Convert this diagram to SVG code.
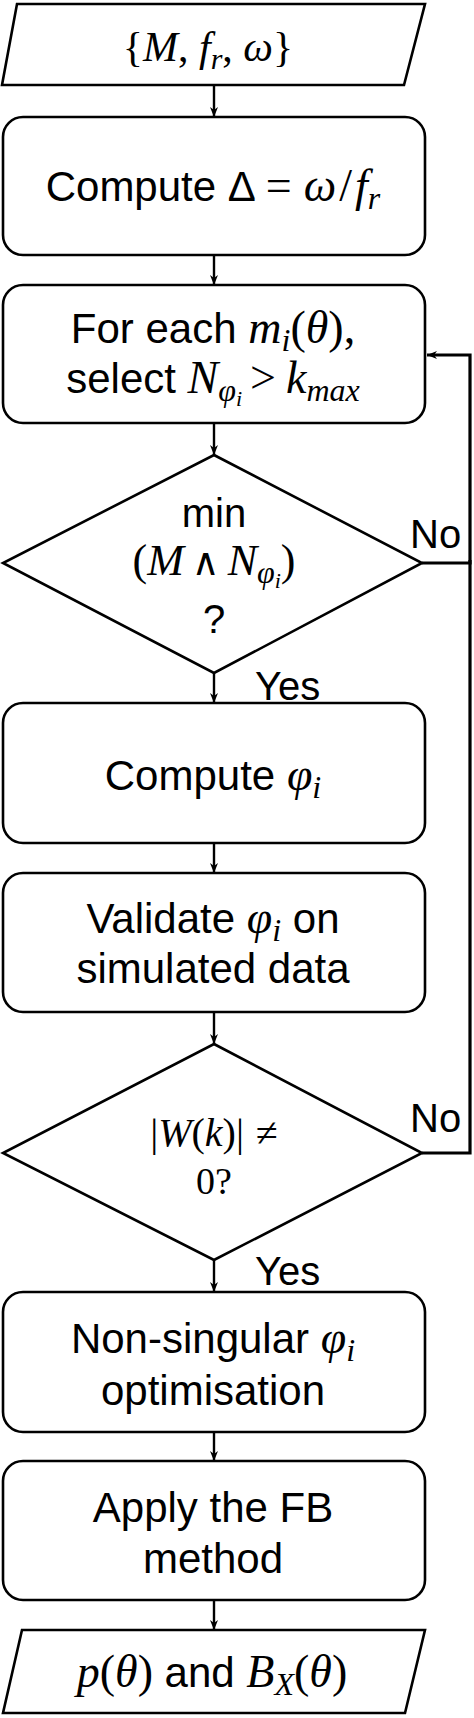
<svg xmlns="http://www.w3.org/2000/svg" width="474" height="1718" viewBox="0 0 474 1718">
<style>
.shape{fill:#fff;stroke:#000;stroke-width:2.6;stroke-linejoin:miter}
.con{fill:none;stroke:#000;stroke-width:2.4}
.loop{fill:none;stroke:#000;stroke-width:3.2}
text{fill:#000;font-size:46px;text-anchor:middle}
.s{font-family:"Liberation Sans",Arial,sans-serif;font-size:42px}
.d{font-family:"Liberation Sans",Arial,sans-serif;font-size:40px}
.lbl{font-family:"Liberation Sans",Arial,sans-serif;font-size:40px;text-anchor:start}
.m{font-family:"Liberation Serif","Times New Roman",serif;font-style:italic}
.u{font-family:"Liberation Serif","Times New Roman",serif;font-style:normal}
.op{font-family:"DejaVu Sans",sans-serif;font-style:normal;font-weight:normal;font-size:38px}
.sub{font-size:32px}
.ss{font-size:22px}
</style>
<defs>
<marker id="ah" viewBox="0 0 10 10" refX="10" refY="5" markerWidth="10" markerHeight="10" markerUnits="userSpaceOnUse" orient="auto">
<path d="M0,1 L10,5 L0,9 L3,5 z" fill="#000"/>
</marker>
</defs>
<g id="connectors">
<line class="con" x1="214" y1="85" x2="214" y2="117" marker-end="url(#ah)"/>
<line class="con" x1="214" y1="255" x2="214" y2="285" marker-end="url(#ah)"/>
<line class="con" x1="214" y1="423" x2="214" y2="455" marker-end="url(#ah)"/>
<line class="con" x1="214" y1="673" x2="214" y2="703" marker-end="url(#ah)"/>
<line class="con" x1="214" y1="843" x2="214" y2="873" marker-end="url(#ah)"/>
<line class="con" x1="214" y1="1012" x2="214" y2="1044" marker-end="url(#ah)"/>
<line class="con" x1="214" y1="1260" x2="214" y2="1292" marker-end="url(#ah)"/>
<line class="con" x1="214" y1="1432" x2="214" y2="1461" marker-end="url(#ah)"/>
<line class="con" x1="214" y1="1600" x2="214" y2="1630" marker-end="url(#ah)"/>
<polyline class="loop" points="422,563 470,563 470,355 427,355" marker-end="url(#ah)"/>
<polyline class="loop" points="422,1153 470,1153 470,560"/>
<text class="lbl" x="410" y="548">No</text>
<text class="lbl" x="410" y="1132">No</text>
<text class="lbl" x="255" y="700">Yes</text>
<text class="lbl" x="255" y="1285">Yes</text>
</g>
<g id="input">
<polygon class="shape" points="17,4 425,4 404,85 2,85"/>
<text x="208" y="61" style="font-size:42px"><tspan class="u">{</tspan><tspan class="m">M</tspan><tspan class="u">, </tspan><tspan class="m">f</tspan><tspan class="m" style="font-size:30px" dy="8">r</tspan><tspan class="u" dy="-8">, </tspan><tspan class="m">ω</tspan><tspan class="u">}</tspan></text>
</g>
<g id="compute-delta">
<rect class="shape" x="3" y="117" width="422" height="138" rx="20"/>
<text x="213" y="201"><tspan class="s">Compute Δ</tspan><tspan class="u" dx="10">=</tspan><tspan class="m" dx="12">ω</tspan><tspan class="u" dx="3">/</tspan><tspan class="m" dx="3">f</tspan><tspan class="m sub" dy="8">r</tspan></text>
</g>
<g id="select">
<rect class="shape" x="3" y="285" width="422" height="138" rx="20"/>
<text x="213" y="343"><tspan class="s">For each </tspan><tspan class="m">m</tspan><tspan class="m sub" dy="8">i</tspan><tspan class="u" dy="-8">(</tspan><tspan class="m">θ</tspan><tspan class="u">),</tspan></text>
<text x="213" y="393"><tspan class="s">select </tspan><tspan class="m">N</tspan><tspan class="m sub" dy="8">φ</tspan><tspan class="m ss" dy="5">i</tspan><tspan class="u" dy="-13" dx="8">&gt;</tspan><tspan class="m" dx="10">k</tspan><tspan class="m sub" dy="8">max</tspan></text>
</g>
<g id="decision-min">
<polygon class="shape" points="214,455 422,563 214,673 3,563"/>
<text class="d" x="214" y="527">min</text>
<text x="214" y="575" style="font-size:44px"><tspan class="u">(</tspan><tspan class="m">M</tspan><tspan class="op" dx="8">∧</tspan><tspan class="m" dx="8">N</tspan><tspan class="m sub" dy="8">φ</tspan><tspan class="m ss" dy="5">i</tspan><tspan class="u" dy="-13">)</tspan></text>
<text class="d" x="214" y="633">?</text>
</g>
<g id="compute-phi">
<rect class="shape" x="3" y="703" width="422" height="140" rx="20"/>
<text x="213" y="790"><tspan class="s">Compute </tspan><tspan class="m">φ</tspan><tspan class="m sub" dy="8">i</tspan></text>
</g>
<g id="validate">
<rect class="shape" x="3" y="873" width="422" height="139" rx="20"/>
<text x="213" y="933"><tspan class="s">Validate </tspan><tspan class="m">φ</tspan><tspan class="m sub" dy="8">i</tspan><tspan class="s" dy="-8"> on</tspan></text>
<text class="s" x="213" y="983">simulated data</text>
</g>
<g id="decision-w">
<polygon class="shape" points="214,1044 422,1153 214,1260 3,1153"/>
<text x="214" y="1146" style="font-size:40px"><tspan class="u">|</tspan><tspan class="m">W</tspan><tspan class="u">(</tspan><tspan class="m">k</tspan><tspan class="u">)|</tspan><tspan class="u" dx="12">≠</tspan></text>
<text class="u" x="214" y="1194" style="font-size:38px">0?</text>
</g>
<g id="optimisation">
<rect class="shape" x="3" y="1292" width="422" height="140" rx="20"/>
<text x="213" y="1353"><tspan class="s">Non-singular </tspan><tspan class="m">φ</tspan><tspan class="m sub" dy="8">i</tspan></text>
<text class="s" x="213" y="1405">optimisation</text>
</g>
<g id="fb-method">
<rect class="shape" x="3" y="1461" width="422" height="139" rx="20"/>
<text class="s" x="213" y="1522">Apply the FB</text>
<text class="s" x="213" y="1573">method</text>
</g>
<g id="output">
<polygon class="shape" points="22,1630 425,1630 405,1713 3,1713"/>
<text x="212" y="1687"><tspan class="m">p</tspan><tspan class="u">(</tspan><tspan class="m">θ</tspan><tspan class="u">) </tspan><tspan class="s">and </tspan><tspan class="m">B</tspan><tspan class="m sub" dy="8">X</tspan><tspan class="u" dy="-8">(</tspan><tspan class="m">θ</tspan><tspan class="u">)</tspan></text>
</g>
</svg>
